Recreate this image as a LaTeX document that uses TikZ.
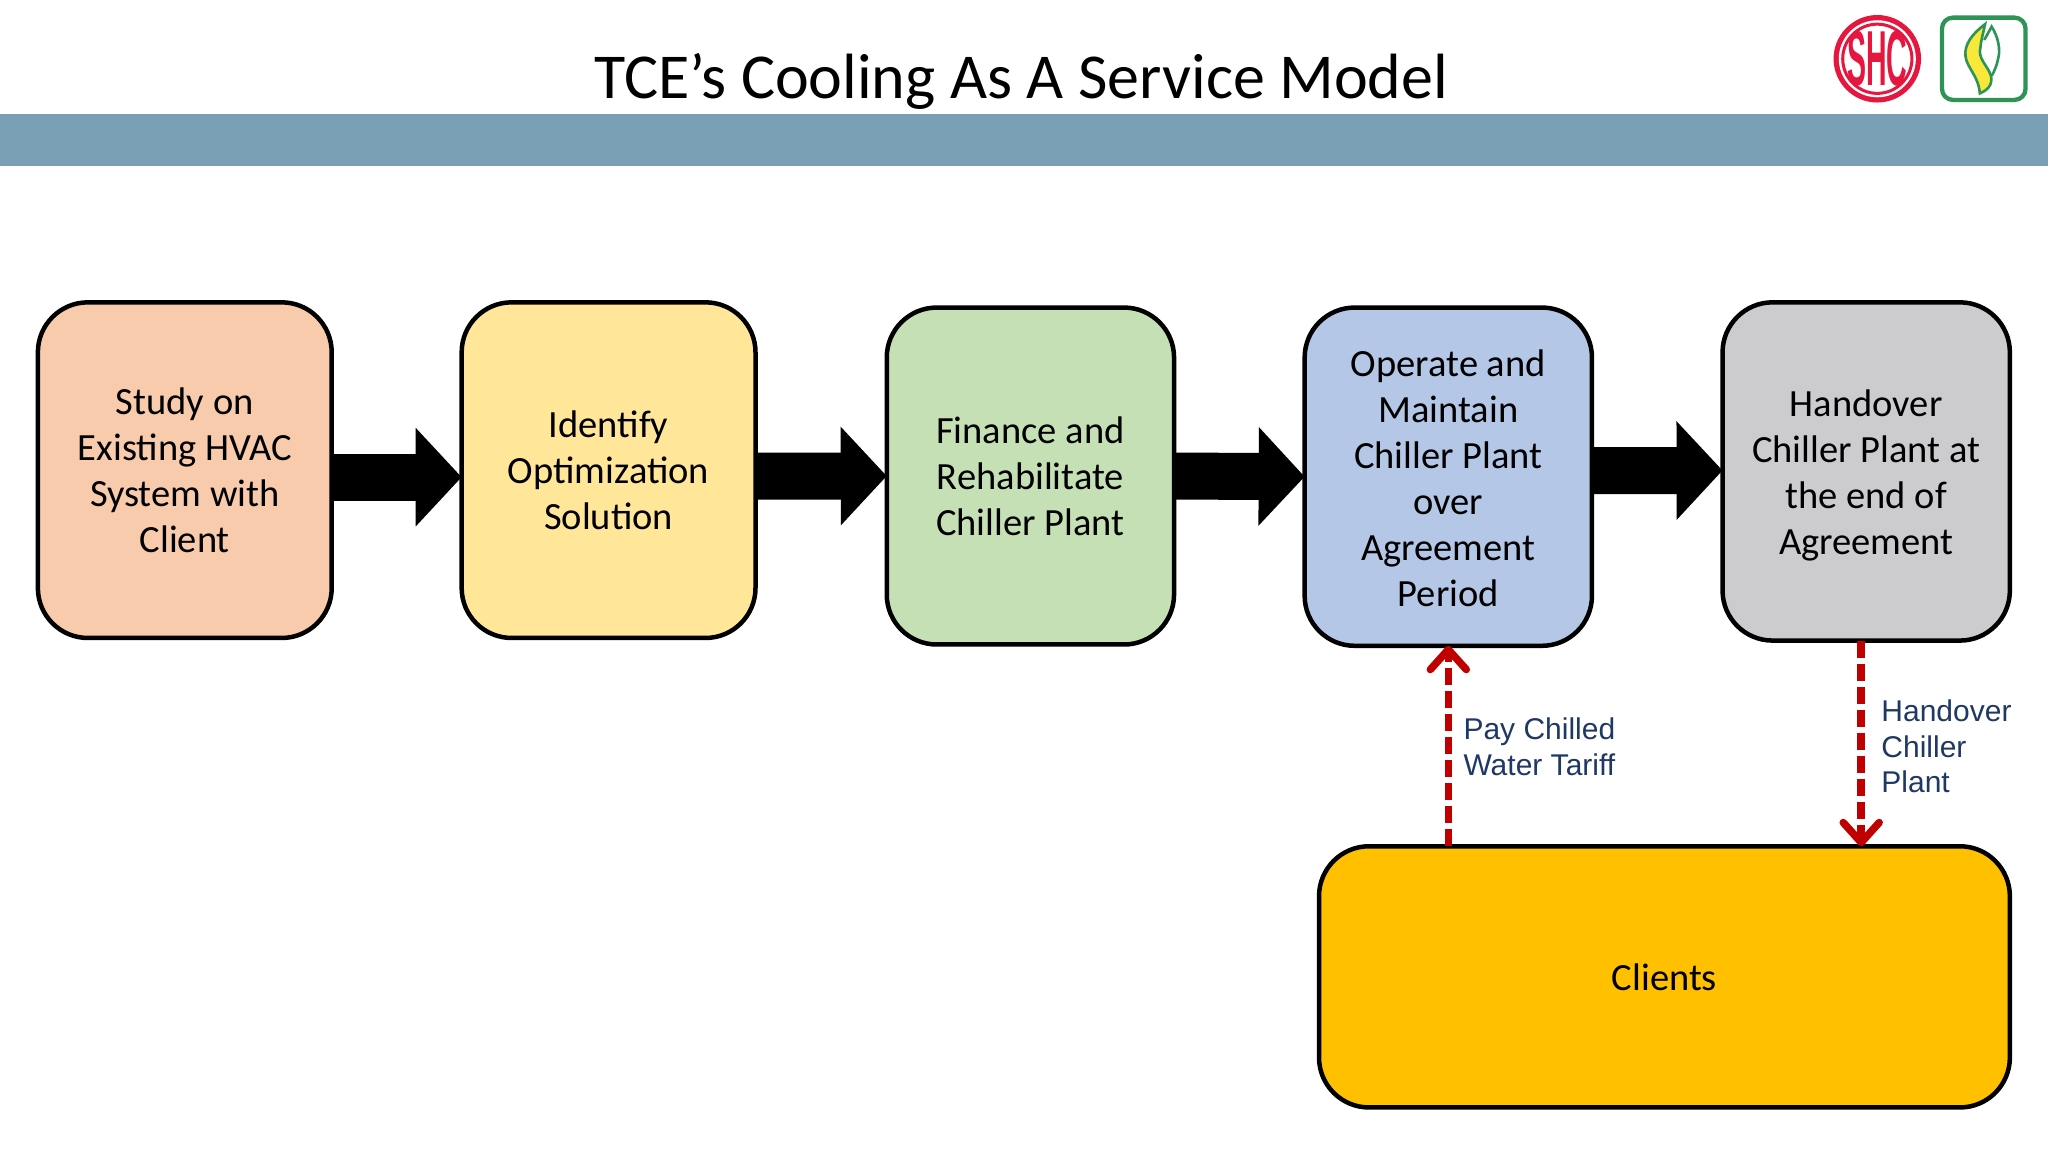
\documentclass[tikz,border=0pt]{standalone}
\usepackage{fontspec}
\setmainfont{Carlito}
\newfontfamily\labelfont{Liberation Sans}
\usetikzlibrary{arrows.meta}
\definecolor{band}{HTML}{7AA0B6}
\definecolor{cOne}{HTML}{F8CBAD}
\definecolor{cTwo}{HTML}{FFE699}
\definecolor{cThree}{HTML}{C5E0B4}
\definecolor{cFour}{HTML}{B4C7E7}
\definecolor{cFive}{HTML}{CCCBCE}
\definecolor{cSix}{HTML}{FFC000}
\definecolor{dashred}{HTML}{C00000}
\definecolor{labelblue}{HTML}{1F3864}
\definecolor{shcred}{HTML}{E5173F}
\definecolor{leafgreen}{HTML}{2E9455}
\definecolor{leafyellow}{HTML}{F7E83A}
\tikzset{
  box/.style={draw=black,line width=4.5pt,rounded corners=50pt,align=center,font=\fontsize{38.5}{46}\selectfont,inner sep=0pt,outer sep=0pt},
  block/.style={line width=47pt,draw=black,-{Triangle[length=46pt,width=96pt]}},
  pay/.style={draw=dashred,line width=7.5pt,dash pattern=on 17pt off 6pt,-{Straight Barb[length=20pt,width=36pt,round,line width=7.5pt]}},
  lab/.style={anchor=west,align=left,text=labelblue,font=\labelfont\fontsize{30}{35.5}\selectfont,inner sep=0pt}
}
\begin{document}
\begin{tikzpicture}[x=1.306pt,y=-1.306pt]
\useasboundingbox (0,0) rectangle (1568.2,882.1);
\fill[white] (0,0) rectangle (1568.2,882.1);
\fill[band] (0,87) rectangle (1568.2,127);
\node[font=\fontsize{64}{70}\selectfont,inner sep=0pt] (title) at (782,62) {TCE’s Cooling As A Service Model};
\node[box,fill=cOne,minimum width=225*1.306pt,minimum height=257*1.306pt] (a) at (141.5,360) {Study on\\Existing HVAC\\System with\\Client};
\node[box,fill=cTwo,minimum width=225*1.306pt,minimum height=257*1.306pt] (b) at (466,360) {Identify\\Optimization\\Solution};
\node[box,fill=cThree,minimum width=220*1.306pt,minimum height=258*1.306pt] (c) at (789,364.5) {Finance and\\Rehabilitate\\Chiller Plant};
\node[box,fill=cFour,minimum width=220*1.306pt,minimum height=259*1.306pt] (d) at (1109,365) {\rule{0pt}{29pt}Operate and\\Maintain\\Chiller Plant\\over\\Agreement\\Period};
\node[box,fill=cFive,minimum width=220*1.306pt,minimum height=259*1.306pt] (e) at (1429,361) {\rule{0pt}{34pt}Handover\\Chiller Plant at\\the end of\\Agreement};
\node[box,fill=cSix,minimum width=529*1.306pt,minimum height=200*1.306pt] (f) at (1274.5,748) {Clients};
\draw[block] ([yshift=-7pt]a.east) -- ([yshift=-7pt]b.west);
\draw[block] ([yshift=-6pt]b.east) -- (c.west);
\draw[block] (c.east) -- (d.west);
\draw[block] ([yshift=6pt]d.east) -- ([yshift=1pt]e.west);
\draw[pay] (f.north -| d.south) -- (d.south);
\draw[pay] ([xshift=-5pt]e.south) -- ([xshift=-5pt]e.south |- f.north);
\node[lab] (l1) at (1120.5,572) {Pay Chilled\\Water Tariff};
\node[lab] (l2) at (1440.5,571.5) {Handover\\Chiller\\Plant};
% SHC logo
\fill[shcred] (1437.5,45) circle (33.5);
\fill[white] (1437.5,45) circle (29.5);
\draw[shcred,line width=3pt] (1437.5,45) circle (26.5);
\begin{scope}
\clip (1437.5,45) circle (26);
\node[text=shcred,font=\labelfont\bfseries\fontsize{30}{30}\selectfont,inner sep=0pt,xscale=.95,yscale=2.6] (shc) at (1437.5,45) {SHC};
\end{scope}
% leaf logo
\draw[leafgreen,line width=4.3pt,fill=white,rounded corners=11pt] (1487,13.5) rectangle (1551,76.5);
\path[fill=leafyellow,draw=leafgreen,line width=2.6pt] (1520,18.5) .. controls (1510,26) and (1504,34) .. (1505,43) .. controls (1506,52) and (1515,58) .. (1516,71.5) .. controls (1522,69) and (1526,65) .. (1524.5,58) .. controls (1522,50) and (1514,45) .. (1516.5,36) .. controls (1517,30) and (1519,24) .. cycle;
\path[draw=leafgreen,line width=2.6pt] (1519.4,30.6) -- (1525,20.4) .. controls (1530,28) and (1532,38) .. (1530,45) .. controls (1529,50) and (1527,55) .. (1525,58);
\end{tikzpicture}
\end{document}
